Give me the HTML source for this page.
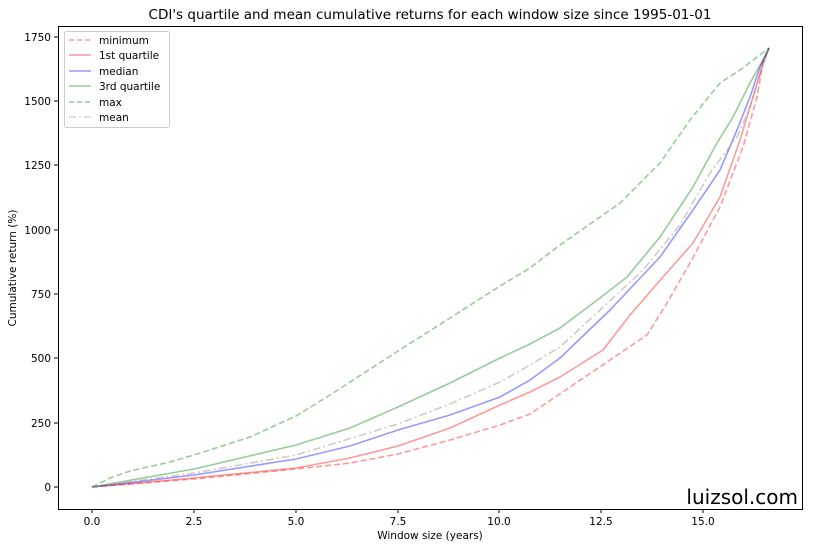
<!DOCTYPE html>
<html><head><meta charset="utf-8"><style>
body{margin:0;background:#fff}
svg text{font-family:"DejaVu Sans","Liberation Sans",sans-serif;fill:#000}
</style></head><body>
<svg width="813" height="549" viewBox="0 0 813 549" xmlns="http://www.w3.org/2000/svg">
<rect width="813" height="549" fill="#fff"/>
<text x="430" y="19" font-size="13.5" text-anchor="middle">CDI's quartile and mean cumulative returns for each window size since 1995-01-01</text>
<g fill="none" stroke-width="1.6" stroke-linejoin="round">
<polyline stroke="red" stroke-opacity="0.4" stroke-dasharray="6,3" points="92,487 194,479 296,469 350,463 398,454 450,440 500,425 530,414 570,387 610,360 647,335 667,303 690,263 720,207 743,147 757,97 763,63 769,48"/>
<polyline stroke="red" stroke-opacity="0.4" points="92,487 194,478 296,468 350,458 398,446 450,428 500,405 530,392 560,377 603,350 630,315 663,277 693,243 720,197 740,140 753,97 763,63 769,48"/>
<polyline stroke="blue" stroke-opacity="0.4" points="92,487 194,475 296,459 350,446 398,430 450,415 500,397 530,380 560,358 610,310 660,257 693,210 720,170 737,130 750,97 760,67 769,48"/>
<polyline stroke="green" stroke-opacity="0.4" points="92,487 194,469 296,445 350,428 398,407 450,383 500,358 530,344 560,328 600,298 627,277 660,237 693,187 717,143 733,117 750,83 763,60 769,48"/>
<polyline stroke="green" stroke-opacity="0.4" stroke-dasharray="6,3" points="92,487 110,478 130,471 170,462 194,455 250,437 296,416 330,395 398,351 450,318 500,286 530,268 560,245 600,217 620,203 660,163 690,120 720,83 740,70 769,48"/>
<polyline stroke="#999" stroke-opacity="0.5" stroke-dasharray="8,3,2,3" points="92,487 194,473 296,455 398,424 450,404 500,382 530,365 560,347 600,310 643,270 680,225 710,173 737,137 750,107 760,75 769,48"/>
</g>
<rect x="58.5" y="26.5" width="744" height="483" fill="none" stroke="#000" stroke-width="1"/>
<g stroke="#000" stroke-width="1">
<line x1="92" y1="509" x2="92" y2="513"/><line x1="194" y1="509" x2="194" y2="513"/><line x1="296" y1="509" x2="296" y2="513"/><line x1="398" y1="509" x2="398" y2="513"/><line x1="499" y1="509" x2="499" y2="513"/><line x1="601" y1="509" x2="601" y2="513"/><line x1="703" y1="509" x2="703" y2="513"/>
<line x1="54" y1="487" x2="58" y2="487"/><line x1="54" y1="423" x2="58" y2="423"/><line x1="54" y1="358" x2="58" y2="358"/><line x1="54" y1="294" x2="58" y2="294"/><line x1="54" y1="230" x2="58" y2="230"/><line x1="54" y1="165" x2="58" y2="165"/><line x1="54" y1="101" x2="58" y2="101"/><line x1="54" y1="37" x2="58" y2="37"/>
</g>
<g font-size="10.5" text-anchor="middle">
<text x="92" y="525">0.0</text><text x="194" y="525">2.5</text><text x="296" y="525">5.0</text><text x="398" y="525">7.5</text><text x="499" y="525">10.0</text><text x="601" y="525">12.5</text><text x="703" y="525">15.0</text>
</g>
<g font-size="10.5" text-anchor="end">
<text x="51" y="491">0</text><text x="51" y="427">250</text><text x="51" y="362">500</text><text x="51" y="298">750</text><text x="51" y="234">1000</text><text x="51" y="169">1250</text><text x="51" y="105">1500</text><text x="51" y="41">1750</text>
</g>
<text x="430" y="539" font-size="10.5" text-anchor="middle">Window size (years)</text>
<text transform="translate(16,268) rotate(-90)" font-size="10.5" text-anchor="middle">Cumulative return (%)</text>
<text x="798" y="504" font-size="20" text-anchor="end">luizsol.com</text>
<rect x="64.5" y="31.5" width="105" height="96" rx="2" fill="#fff" fill-opacity="0.8" stroke="#ccc"/>
<g stroke-width="1.6" stroke-opacity="0.4">
<line x1="69" y1="40" x2="91" y2="40" stroke="red" stroke-dasharray="5,3"/>
<line x1="69" y1="55" x2="91" y2="55" stroke="red"/>
<line x1="69" y1="71" x2="91" y2="71" stroke="blue"/>
<line x1="69" y1="86" x2="91" y2="86" stroke="green"/>
<line x1="69" y1="102" x2="91" y2="102" stroke="green" stroke-dasharray="5,3"/>
<line x1="69" y1="117" x2="91" y2="117" stroke="#999" stroke-dasharray="7,3,2,3"/>
</g>
<g font-size="10.5">
<text x="99" y="44">minimum</text><text x="99" y="59">1st quartile</text><text x="99" y="75">median</text><text x="99" y="90">3rd quartile</text><text x="99" y="106">max</text><text x="99" y="121">mean</text>
</g>
</svg>
</body></html>
